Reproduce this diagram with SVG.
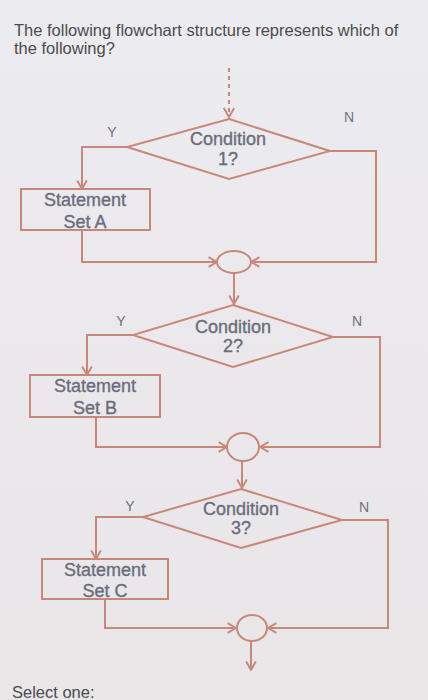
<svg xmlns="http://www.w3.org/2000/svg" width="428" height="700" viewBox="0 0 428 700">
<defs>
<linearGradient id="bg" x1="0" y1="0" x2="0" y2="1">
<stop offset="0" stop-color="#ecebef"/>
<stop offset="1" stop-color="#e9e6e8"/>
</linearGradient>
<marker id="arr" viewBox="0 0 10 10" refX="9" refY="5" markerWidth="12" markerHeight="12" markerUnits="userSpaceOnUse" orient="auto">
<path d="M2,1 L9,5 L2,9" fill="none" stroke="#c9877a" stroke-width="1.6"/>
</marker>
<marker id="arrL" viewBox="0 0 10 10" refX="9" refY="5" markerWidth="13" markerHeight="13" markerUnits="userSpaceOnUse" orient="auto">
<path d="M2,1 L9,5 L2,9" fill="none" stroke="#c9877a" stroke-width="1.5"/>
</marker>
</defs>
<style>
.ln{fill:none;stroke:#c9877a;stroke-width:2}
.shape{fill:none;stroke:#c9877a;stroke-width:2}
.t{font-family:"Liberation Sans",Arial,sans-serif;font-size:18px;fill:#6a6d7c;stroke:#6a6d7c;stroke-width:0.35;text-anchor:middle}
.yn{font-family:"Liberation Sans",Arial,sans-serif;font-size:14px;fill:#6d7080;text-anchor:middle}
.q{font-family:"Liberation Sans",Arial,sans-serif;font-size:16.5px;fill:#4b4b50}
</style>
<rect width="428" height="700" fill="url(#bg)"/>
<text class="q" x="14" y="36">The following flowchart structure represents which of</text>
<text class="q" x="14" y="54">the following?</text>
<text class="q" x="12" y="698" fill="#777" font-size="15">Select one:</text>

<g id="connectors">
<path class="ln" d="M229,68 V117" stroke-dasharray="4,4" marker-end="url(#arrL)"/>
<path class="ln" d="M127,147 H82 V189" marker-end="url(#arr)"/>
<path class="ln" d="M330,151 H376 V262 H251" marker-end="url(#arr)"/>
<path class="ln" d="M82,230 V262 H217" marker-end="url(#arr)"/>
<path class="ln" d="M234,273 V304" marker-end="url(#arr)"/>
<path class="ln" d="M133,335 H87 V375" marker-end="url(#arr)"/>
<path class="ln" d="M333,337 H380 V447 H260" marker-end="url(#arr)"/>
<path class="ln" d="M96,417 V447 H227" marker-end="url(#arr)"/>
<path class="ln" d="M242,461 V488" marker-end="url(#arr)"/>
<path class="ln" d="M143,517 H96 V559" marker-end="url(#arr)"/>
<path class="ln" d="M342,520 H388 V628 H268" marker-end="url(#arr)"/>
<path class="ln" d="M105,599 V628 H236" marker-end="url(#arr)"/>
<path class="ln" d="M251,641 V670" marker-end="url(#arr)"/>
</g>

<g id="cond1">
<polygon class="shape" points="229,119 330,151 229,179 127,147"/>
<text class="t" x="228" y="145">Condition</text>
<text class="t" x="228" y="165">1?</text>
</g>
<g id="label-y1"><text class="yn" x="112" y="137">Y</text></g>
<g id="label-n1"><text class="yn" x="349" y="122">N</text></g>

<g id="setA">
<rect class="shape" x="21" y="189" width="129" height="41"/>
<text class="t" x="85" y="206">Statement</text>
<text class="t" x="85" y="228">Set A</text>
</g>

<g id="join1"><ellipse class="shape" cx="234" cy="262" rx="17" ry="11"/></g>

<g id="cond2">
<polygon class="shape" points="233,305 333,337 233,367 133,335"/>
<text class="t" x="233" y="333">Condition</text>
<text class="t" x="233" y="352">2?</text>
</g>
<g id="label-y2"><text class="yn" x="121" y="326">Y</text></g>
<g id="label-n2"><text class="yn" x="357" y="326">N</text></g>

<g id="setB">
<rect class="shape" x="30" y="375" width="130" height="42"/>
<text class="t" x="95" y="392">Statement</text>
<text class="t" x="95" y="414">Set B</text>
</g>

<g id="join2"><ellipse class="shape" cx="243" cy="447" rx="16" ry="14"/></g>

<g id="cond3">
<polygon class="shape" points="241,489 342,520 241,548 143,517"/>
<text class="t" x="241" y="515">Condition</text>
<text class="t" x="241" y="534">3?</text>
</g>
<g id="label-y3"><text class="yn" x="130" y="511">Y</text></g>
<g id="label-n3"><text class="yn" x="364" y="512">N</text></g>

<g id="setC">
<rect class="shape" x="42" y="559" width="126" height="40"/>
<text class="t" x="105" y="576">Statement</text>
<text class="t" x="105" y="597">Set C</text>
</g>

<g id="join3"><ellipse class="shape" cx="252" cy="628" rx="15" ry="13"/></g>
</svg>
